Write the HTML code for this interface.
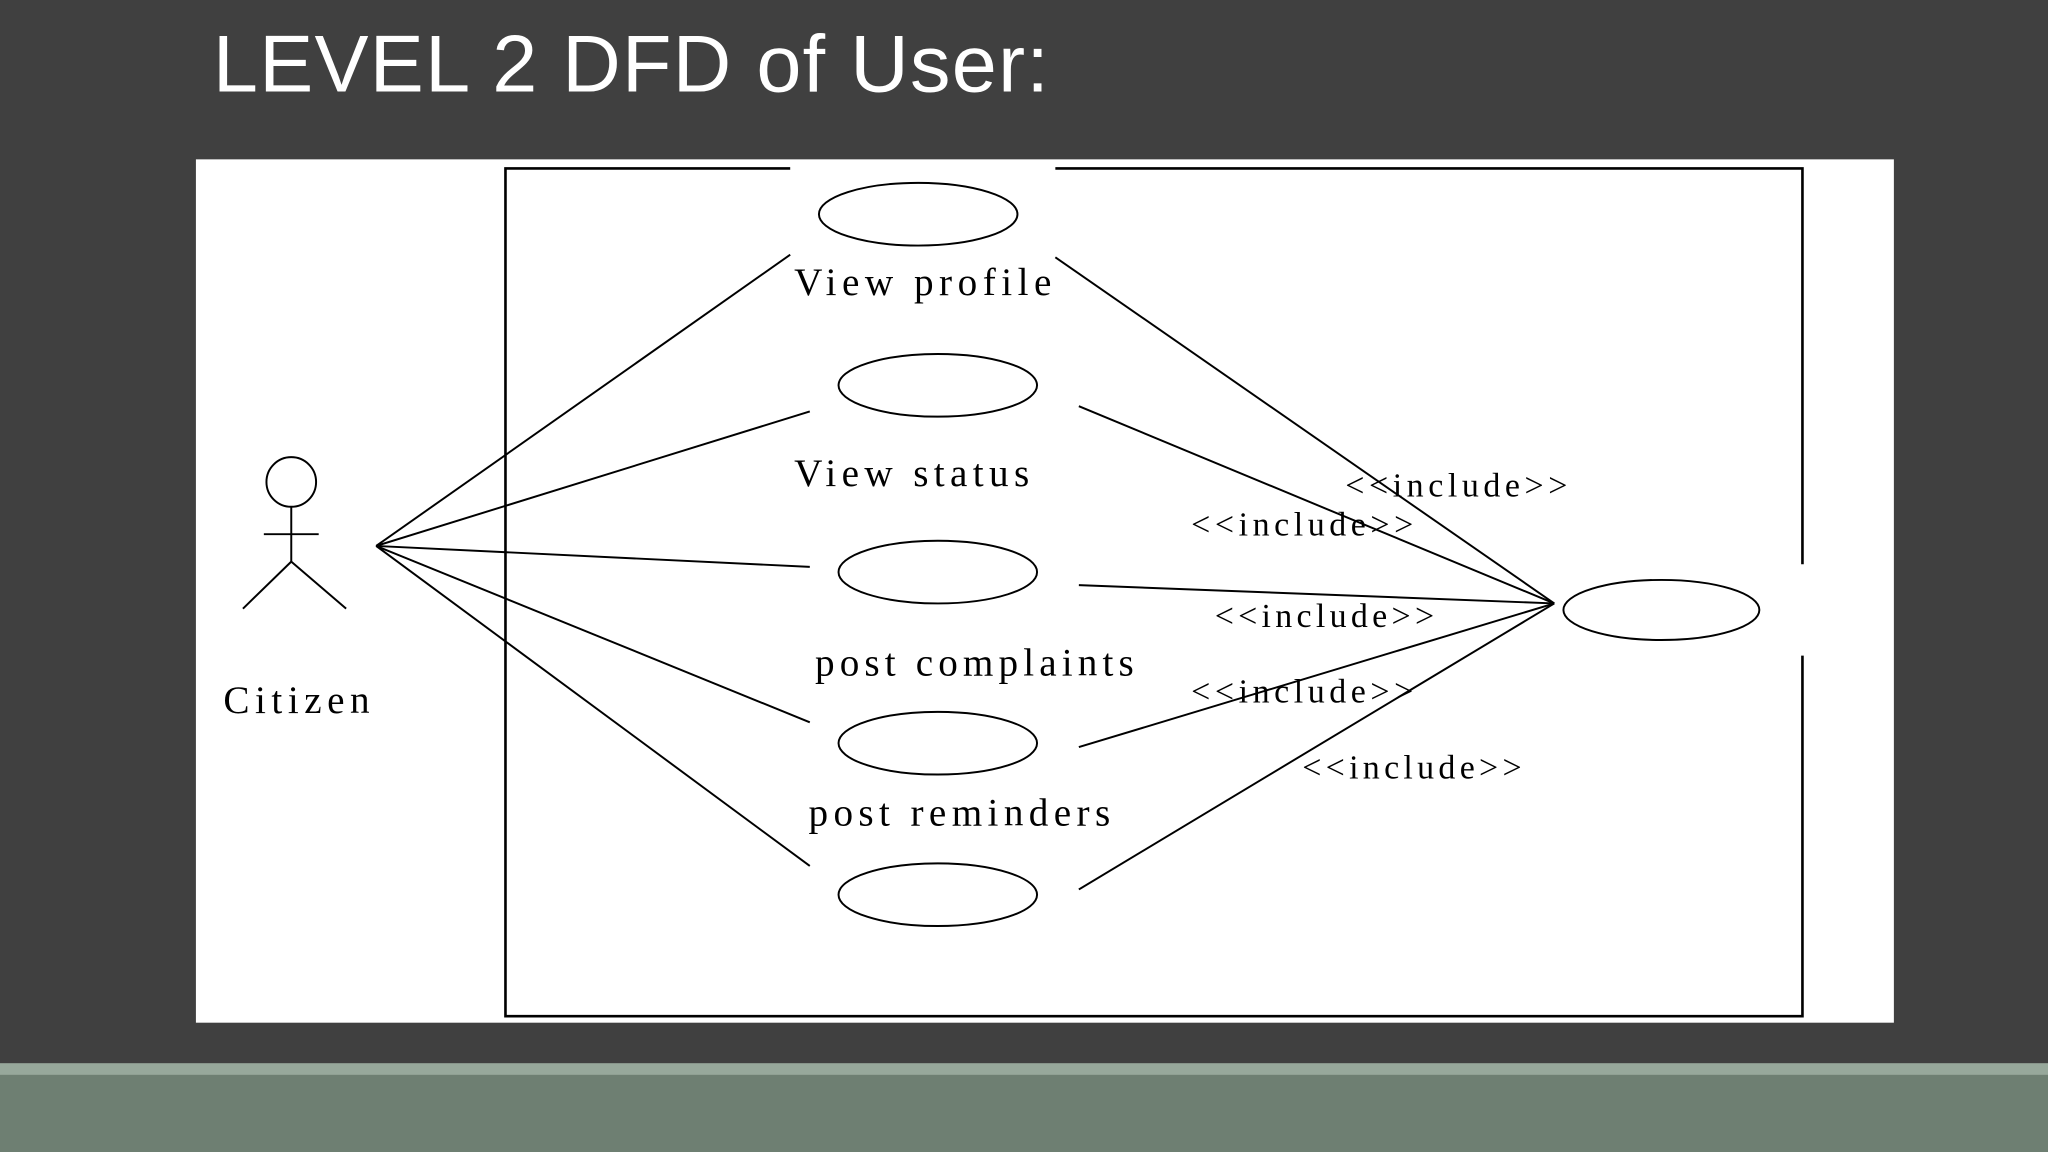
<!DOCTYPE html>
<html><head><meta charset="utf-8"><style>
html,body{margin:0;padding:0;background:#404040;}
svg{display:block;}
</style></head><body>
<svg width="2048" height="1152" viewBox="0 0 1568 882" xmlns="http://www.w3.org/2000/svg">
<rect x="0" y="0" width="1568" height="882" fill="#404040"/>
<rect x="0" y="814" width="1568" height="9" fill="#97a89b"/>
<rect x="0" y="823" width="1568" height="59" fill="#6e7f72"/>
<text x="163" y="70" font-family="Liberation Sans, sans-serif" font-size="62" fill="#ffffff" font-weight="300" textLength="640" lengthAdjust="spacing">LEVEL 2 DFD of User:</text>
<rect x="150" y="122" width="1300" height="661" fill="#ffffff"/>
<g stroke="#000" fill="none" stroke-width="2">
<path d="M605 129 L387 129 L387 778 L1380 778 L1380 502 M1380 432 L1380 129 L808 129"/>
</g>
<g stroke="#000" fill="none" stroke-width="1.5">
<ellipse cx="703" cy="164" rx="76" ry="24"/>
<ellipse cx="718" cy="295" rx="76" ry="24"/>
<ellipse cx="718" cy="438" rx="76" ry="24"/>
<ellipse cx="718" cy="569" rx="76" ry="24"/>
<ellipse cx="718" cy="685" rx="76" ry="24"/>
<ellipse cx="1272" cy="467" rx="75" ry="23"/>
<line x1="288" y1="418" x2="605" y2="195"/>
<line x1="288" y1="418" x2="620" y2="315"/>
<line x1="288" y1="418" x2="620" y2="434"/>
<line x1="288" y1="418" x2="620" y2="553"/>
<line x1="288" y1="418" x2="620" y2="663"/>
<line x1="1190" y1="462" x2="808" y2="197"/>
<line x1="1190" y1="462" x2="826" y2="311"/>
<line x1="1190" y1="462" x2="826" y2="448"/>
<line x1="1190" y1="462" x2="826" y2="572"/>
<line x1="1190" y1="462" x2="826" y2="681"/>
<circle cx="223" cy="369" r="19"/>
<line x1="223" y1="388" x2="223" y2="430"/>
<line x1="202" y1="409" x2="244" y2="409"/>
<line x1="223" y1="430" x2="186" y2="466"/>
<line x1="223" y1="430" x2="265" y2="466"/>
</g>
<g font-family="Liberation Serif, serif" font-size="30" fill="#000" lengthAdjust="spacing">
<text x="608" y="226" textLength="197">View profile</text>
<text x="608" y="372" textLength="180">View status</text>
<text x="624" y="517" textLength="244">post complaints</text>
<text x="619" y="632" textLength="231">post reminders</text>
<text x="171" y="546" textLength="112">Citizen</text>
</g>
<g font-family="Liberation Serif, serif" font-size="26" fill="#000">
<text x="1030" y="380" textLength="170">&lt;&lt;include&gt;&gt;</text>
<text x="912" y="410" textLength="170">&lt;&lt;include&gt;&gt;</text>
<text x="930" y="480" textLength="168">&lt;&lt;include&gt;&gt;</text>
<text x="912" y="538" textLength="170">&lt;&lt;include&gt;&gt;</text>
<text x="997" y="596" textLength="168">&lt;&lt;include&gt;&gt;</text>
</g>
</svg>
</body></html>
